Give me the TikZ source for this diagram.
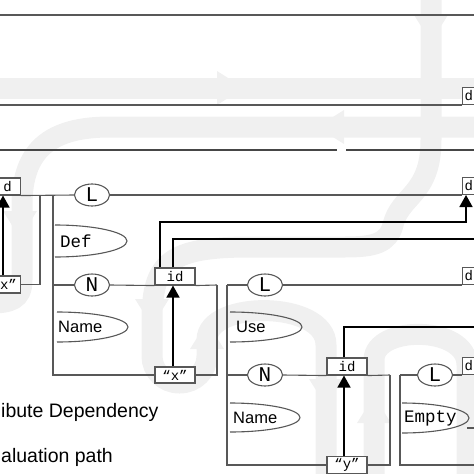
\documentclass[tikz,border=0pt]{standalone}
\usepackage{fontspec}
\setmainfont{Liberation Sans}
\newfontfamily\cour{Liberation Mono}
\usetikzlibrary{arrows.meta,shapes.geometric}
\definecolor{linegray}{RGB}{88,88,88}
\definecolor{bandc}{RGB}{240,240,240}
\pgfdeclarelayer{bands}
\pgfdeclarelayer{bg}
\pgfsetlayers{bands,bg,main}
\newcommand\garr[3]{\fill[bandc, shift={(#1,#2)}, rotate=#3] (0,0) -- (-27,17) -- (-27,-17) -- cycle;}
\newcommand\hell[4]{\draw[ln] (#1,#2-#4) .. controls (#1+0.552*#3,#2-#4) and (#1+#3,#2-0.552*#4) .. (#1+#3,#2) .. controls (#1+#3,#2+0.552*#4) and (#1+0.552*#3,#2+#4) .. (#1,#2+#4);}
\begin{document}
\begin{tikzpicture}[x=1pt,y=-1pt,
  ln/.style={draw=linegray, line width=1.1pt},
  lnthick/.style={draw=linegray!80!black, line width=1.8pt},
  band/.style={draw=bandc, line width=21pt},
  blk/.style={draw=black, line width=1.6pt, -{Triangle[width=13pt,length=12pt]}},
  blkline/.style={draw=black, line width=1.6pt},
  idbox/.style={draw=linegray, line width=1.1pt, fill=white, minimum width=40pt, minimum height=17pt, inner sep=0pt, font=\cour\fontsize{14}{14}\selectfont},
  cutbox/.style={draw=linegray, line width=1.1pt, fill=white, minimum width=40pt, minimum height=17pt, inner sep=0pt, anchor=east},
  boxtext/.style={inner sep=0pt, font=\cour\fontsize{14}{14}\selectfont},
  dbox/.style={draw=linegray, line width=1.1pt, fill=white, minimum height=17pt, text width=20pt, inner xsep=2pt, inner ysep=0pt, font=\cour\fontsize{14}{14}\selectfont},
  ell/.style={ellipse, draw=linegray, line width=1.1pt, fill=white, minimum width=35pt, minimum height=22pt, inner sep=0pt, font=\cour\fontsize{21}{21}\selectfont},
  tt/.style={anchor=west, inner sep=0pt, font=\cour\fontsize{17.5}{17.5}\selectfont},
  sf/.style={anchor=west, inner sep=0pt, font=\fontsize{16.5}{17}\selectfont},
  leg/.style={anchor=base west, inner sep=0pt, font=\fontsize{19.5}{20}\selectfont}]
\useasboundingbox (0,0) rectangle (474,474);
\clip (0,0) rectangle (474,474);

% nodes
\node[cutbox] (dL) at (21,186.5) {};
\node[boxtext] (dLt) at (7.5,186.5) {d};
\node[cutbox] (xL) at (21,284.5) {};
\node[boxtext] (xLt) at (8.5,284.5) {x”};
\node[ell] (L1) at (92,195) {L};
\node[ell] (N1) at (92,285) {N};
\node[idbox] (id1) at (175,276.5) {id};
\node[idbox, minimum height=16pt] (x1) at (175,375) {“x”};
\node[ell] (L2) at (265,285) {L};
\node[ell] (N2) at (265,375) {N};
\node[idbox] (id2) at (347,366.5) {id};
\node[idbox] (y1) at (347,465) {“y”};
\node[ell] (L3) at (435,375) {L};
\node[dbox, anchor=south west] (dR0) at (462,105) {d};
\node[dbox, anchor=south west] (dR1) at (462,195) {d};
\node[dbox, anchor=south west] (dR2) at (462,285) {d};
\node[dbox, anchor=south west] (dR3) at (462,375) {d};

\node[tt] (tDef) at (60,241) {Def};
\node[sf] (tName1) at (58,327) {Name};
\node[sf] (tUse) at (236,327) {Use};
\node[sf] (tName2) at (233,418) {Name};
\node[tt] (tEmpty) at (404,418) {Empty};

\node[leg] (leg1) at (1,417) {ibute Dependency};
\node[leg] (leg2) at (1,462) {aluation path};

% coordinates
\coordinate (c40) at (40,195);
\coordinate (c53t) at (53,195);
\coordinate (c53m) at (53,285);
\coordinate (c53b) at (53,375);
\coordinate (c217b) at (217,375);
\coordinate (c217t) at (217,285);
\coordinate (c227t) at (227,285);
\coordinate (c227m) at (227,375);
\coordinate (c227b) at (227,465);
\coordinate (c390b) at (390,465);
\coordinate (c390t) at (390,375);
\coordinate (c400t) at (400,375);
\coordinate (c400b) at (400,465);
\coordinate (cEnd) at (480,465);
\coordinate (k1) at (466,222);
\coordinate (k2) at (480,239);
\coordinate (k3) at (480,327);

\begin{pgfonlayer}{bands}
\draw[band] (-10,88) -- (490,88);
\garr{244}{88}{0}
\draw[band] (490,127) -- (110,127) .. controls (50,127) and (22,150) .. (22,205) -- (22,280) .. controls (22,300) and (10,303) .. (-10,303);
\garr{317}{127}{180}
\garr{20}{238}{-90}
\draw[band] (431,-10) -- (431,140) .. controls (431,195) and (400,195) .. (393,225) .. controls (388,243) and (375,247) .. (345,247) -- (250,247) .. controls (170,247) and (152,262) .. (152,320) -- (152,356) .. controls (152,371) and (164,383) .. (179.5,383) .. controls (195,383) and (207,371) .. (207,356) -- (207,340) .. controls (207,300) and (326,300) .. (326,345) -- (326,490);
\garr{431}{42}{-90}
\garr{152}{326}{-90}
\garr{207}{322}{90}
\garr{326}{406}{-90}
\draw[band] (374,490) -- (374,360) .. controls (374,325) and (467,325) .. (467,365) -- (467,490);
\garr{374}{396}{90}
\end{pgfonlayer}

\begin{pgfonlayer}{bg}
\draw[ln, line width=1.4pt] (0,15) -- (474,15);
\draw[ln] (0,105) -- (dR0.south west);
\draw[lnthick] (0,150) -- (337,150);
\draw[lnthick] (346,150) -- (474,150);
\draw[ln] (dL.south east) -- (L1.west);
\draw[ln] (L1.east) -- (dR1.south west);
\draw[ln] (xL.east) -| (c40);
\draw[ln] (c53t) -- (c53b) -- (x1.west);
\draw[ln] (x1.east) -- (c217b) -- (c217t);
\draw[ln] (c53m) -- (N1.west);
\draw[ln] (N1.east) -- (id1.south west);
\draw[ln] (id1.south east) -- (c217t);
\draw[ln] (c227t) -- (L2.west);
\draw[ln] (L2.east) -- (dR2.south west);
\draw[ln] (c227t) -- (c227b) -- (y1.west);
\draw[ln] (y1.east) -- (c390b) -- (c390t);
\draw[ln] (c227m) -- (N2.west);
\draw[ln] (N2.east) -- (id2.south west);
\draw[ln] (id2.south east) -- (c390t);
\draw[ln] (c400t) -- (L3.west);
\draw[ln] (L3.east) -- (dR3.south west);
\draw[ln] (c400t) -- (c400b) -- (cEnd);
\hell{55}{241}{72}{16}
\hell{57}{327}{71}{15}
\hell{230}{327}{72}{15}
\hell{230}{417.5}{70}{14.5}
\hell{402}{418}{67}{15}
\draw[ln] (467,428) -- (476,428);
\end{pgfonlayer}

\draw[blk] ([xshift=-18pt]xL.north east) -- ([xshift=-18pt]dL.south east);
\draw[blk] ([xshift=-2pt]x1.north) -- ([xshift=-2pt]id1.south);
\draw[blk] ([xshift=-15pt]id1.north) |- (k1) -- ([xshift=4pt]dR1.south west);
\draw[blkline] ([xshift=-2pt]id1.north) |- (k2);
\draw[blk] ([xshift=-3pt]y1.north) -- ([xshift=-3pt]id2.south);
\draw[blkline] ([xshift=-3pt]id2.north) |- (k3);
\end{tikzpicture}
\end{document}
